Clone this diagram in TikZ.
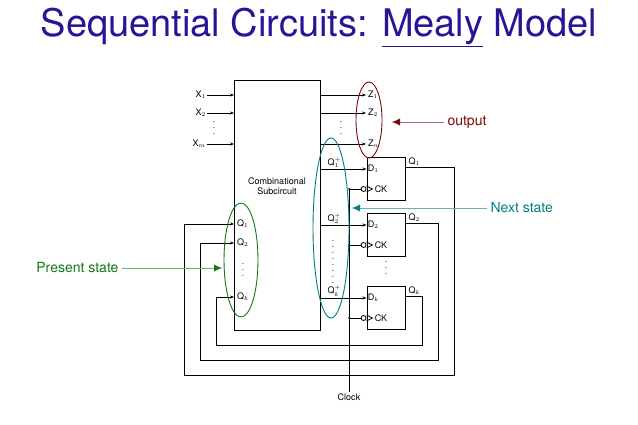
\documentclass[tikz,border=0pt]{standalone}
\usepackage{fontspec}
\setmainfont{TeX Gyre Heros}
\usetikzlibrary{positioning,shapes.geometric,arrows.meta}
\definecolor{titleblue}{RGB}{40,20,150}
\definecolor{outred}{RGB}{120,10,10}
\definecolor{nextteal}{RGB}{0,128,128}
\definecolor{presgreen}{RGB}{20,120,20}
\tikzset{
  box/.style = {draw, line width=0.9pt, minimum width=38pt, minimum height=43pt, inner sep=0pt},
  lbl/.style = {font=\fontsize{9}{10}\selectfont, inner sep=1pt},
  sig/.style = {line width=0.8pt},
  arr/.style = {sig, -{Stealth[length=4pt,width=3pt]}},
  vdots/.style = {font=\fontsize{8}{6}\selectfont, inner sep=0pt, align=center}
}
\begin{document}
\begin{tikzpicture}[x=1pt, y=-1pt]
\useasboundingbox (0,0) rectangle (638,425);
\node[titleblue, font=\fontsize{38}{40}\selectfont] (title) at (319,27) {Sequential Circuits: \underline{Mealy} Model};

% combinational block
\node[draw, line width=0.9pt, minimum width=86pt, minimum height=250pt, inner sep=0pt] (comb) at (277,205) {};
\node[lbl, align=center] (combtxt) at (277,186) {Combinational\\Subcircuit};

% inputs
\foreach \n/\t/\y in {x1/X$_1$/95, x2/X$_2$/113, xm/X$_m$/144} {
  \coordinate (\n) at (207,\y);
  \node[lbl, left=0pt of \n] (\n l) {\t};
  \draw[arr] (\n) -- (234,\y);
}
\node[vdots] (xdots) at (214,128) {.\\.\\.};

% outputs
\foreach \n/\t/\y in {z1/Z$_1$/95, z2/Z$_2$/113, zn/Z$_n$/144} {
  \coordinate (\n) at (366,\y);
  \node[lbl, right=1pt of \n] (\n l) {\t};
  \draw[arr] (320,\y) -- (\n);
}
\node[vdots] (zdots) at (341,128) {.\\.\\.};

% flip-flops
\foreach \n/\i/\y in {ff1/1/179, ff2/2/235, ffk/k/308} {
  \node[box] (\n) at (386,\y) {};
  \node[lbl, anchor=west] (\n d) at ([yshift=10pt]\n.west) {D$_\i$};
  \node[lbl, anchor=west] (\n ck) at ([xshift=7pt,yshift=-10pt]\n.west) {CK};
  \draw[sig] ([yshift=-7pt]\n.west) -- ++(6,3) -- ++(-6,3);
  \draw[sig] ([xshift=-3pt,yshift=-10pt]\n.west) circle (2.5pt);
  \coordinate (\n dd) at ([yshift=10pt]\n.west);
  \coordinate (\n cc) at ([xshift=-5.5pt,yshift=-10pt]\n.west);
  \draw[arr] (\n dd -| comb.east) -- (\n dd) node[lbl, pos=0.3, above] {Q$_\i^+$};
  \draw[sig] (349,0 |- \n cc) -- (\n cc);
  \fill (349,0 |- \n cc) circle (1pt);
  \node[lbl, anchor=south west] (\n q) at ([yshift=12pt,xshift=2pt]\n.east) {Q$_\i$};
}
\node[vdots] (ffdots) at (386,268) {.\\.\\.};
\node[vdots] (qdots) at (333,262) {.\\.\\.\\.\\.\\.\\.\\.};

% clock
\coordinate (clk) at (349,392);
\draw[sig] (clk) -- (349,188);
\node[lbl, below=1pt of clk] (clkl) {Clock};

% feedback
\foreach \n/\i/\xr/\yb/\xl/\yi in {ff1/1/454/375/184/224, ff2/2/438/360/200/243, ffk/k/422/345/216/297} {
  \draw[sig, -{Stealth[length=4pt,width=3pt]}] ([yshift=12pt]\n.east) -| (\xr,\yb) -| (\xl,\yi) -- (234,\yi);
  \node[lbl, anchor=west] (q\i in) at (236,\yi) {Q$_\i$};
}
\node[vdots] (pdots) at (243,270) {.\\.\\.};

% ellipses
\node[draw=outred, ellipse, line width=0.9pt, minimum width=26pt, minimum height=76pt] (outell) at (369,120) {};
\node[draw=presgreen, ellipse, line width=0.9pt, minimum width=34pt, minimum height=114pt] (presell) at (241,260) {};
\node[draw=nextteal, ellipse, line width=0.9pt, minimum width=36pt, minimum height=180pt] (nextell) at (331,228) {};

% annotations
\node[outred, font=\fontsize{14}{16}\selectfont, anchor=west] (outl) at (444,122) {output};
\draw[outred!60, -{Latex[length=8pt,width=7pt,outred]}] (outl.west) -- (392,122);
\node[nextteal, font=\fontsize{14}{16}\selectfont, anchor=west] (nextl) at (487,208) {Next state};
\draw[nextteal!60, -{Latex[length=8pt,width=7pt,nextteal]}] (nextl.west) -- (352,208);
\node[presgreen, font=\fontsize{14}{16}\selectfont, anchor=east] (presl) at (122,268) {Present state};
\draw[presgreen!60, -{Latex[length=8pt,width=7pt,presgreen]}] (presl.east) -- (222,268);
\end{tikzpicture}
\end{document}
